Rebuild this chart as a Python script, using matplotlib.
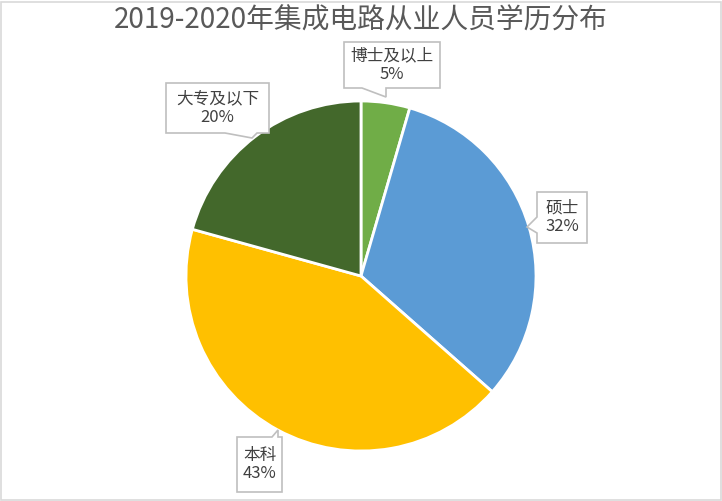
import matplotlib.pyplot as plt
from matplotlib.patches import Polygon, Rectangle

plt.rcParams['font.family'] = ['Noto Sans CJK SC', 'DejaVu Sans']

title = '2019-2020年集成电路从业人员学历分布'
labels = ['博士及以上', '硕士', '本科', '大专及以下']
shares = [4.5, 32.0, 42.8, 20.7]      # slice sizes
pct_text = ['5%', '32%', '43%', '20%']  # percentages printed on the callouts
colors = ['#70AD47', '#5B9BD5', '#FFC000', '#43682B']

W, H = 722, 501
fig = plt.figure(figsize=(W / 100, H / 100), dpi=100)
ax = fig.add_axes([0, 0, 1, 1])

ax.pie(shares, colors=colors, startangle=90, counterclock=False,
       center=(361, H - 276), radius=175,
       wedgeprops=dict(edgecolor='white', linewidth=2))
ax.set_xlim(0, W)
ax.set_ylim(0, H)
ax.set_aspect('auto')
ax.axis('off')

fig.patches.append(Rectangle((0.001, 0.001), 0.997, 0.996, transform=fig.transFigure,
                             fill=False, edgecolor='#D9D9D9', linewidth=1.2))

ax.text(W / 2, H - 21, title, ha='center', va='center', fontsize=20, color='#595959')

# callout shapes in image pixel coords (y down)
callouts = [
    [(344, 42), (440, 42), (440, 88), (386, 88), (386, 97), (362, 88), (344, 88)],
    [(537, 192), (587, 192), (587, 243), (537, 243), (537, 233), (527, 227), (537, 217)],
    [(237, 437), (272, 437), (278, 430), (278, 437), (282, 437), (282, 492), (237, 492)],
    [(166, 83), (269, 83), (269, 133), (257, 133), (252, 138), (225, 133), (166, 133)],
]
boxes = [(344, 42, 440, 88), (537, 192, 587, 243), (237, 437, 282, 492), (166, 83, 269, 133)]

for lab, pct, pts, (x0, y0, x1, y1) in zip(labels, pct_text, callouts, boxes):
    ax.add_patch(Polygon([(x, H - y) for x, y in pts], closed=True, facecolor='white',
                         edgecolor='#BFBFBF', linewidth=1.2, zorder=5))
    ax.text((x0 + x1) / 2, H - (y0 + y1) / 2, f'{lab}\n{pct}', ha='center', va='center',
            fontsize=12, color='#404040', linespacing=1.15, zorder=6)

fig.savefig('out.png', dpi=100)
